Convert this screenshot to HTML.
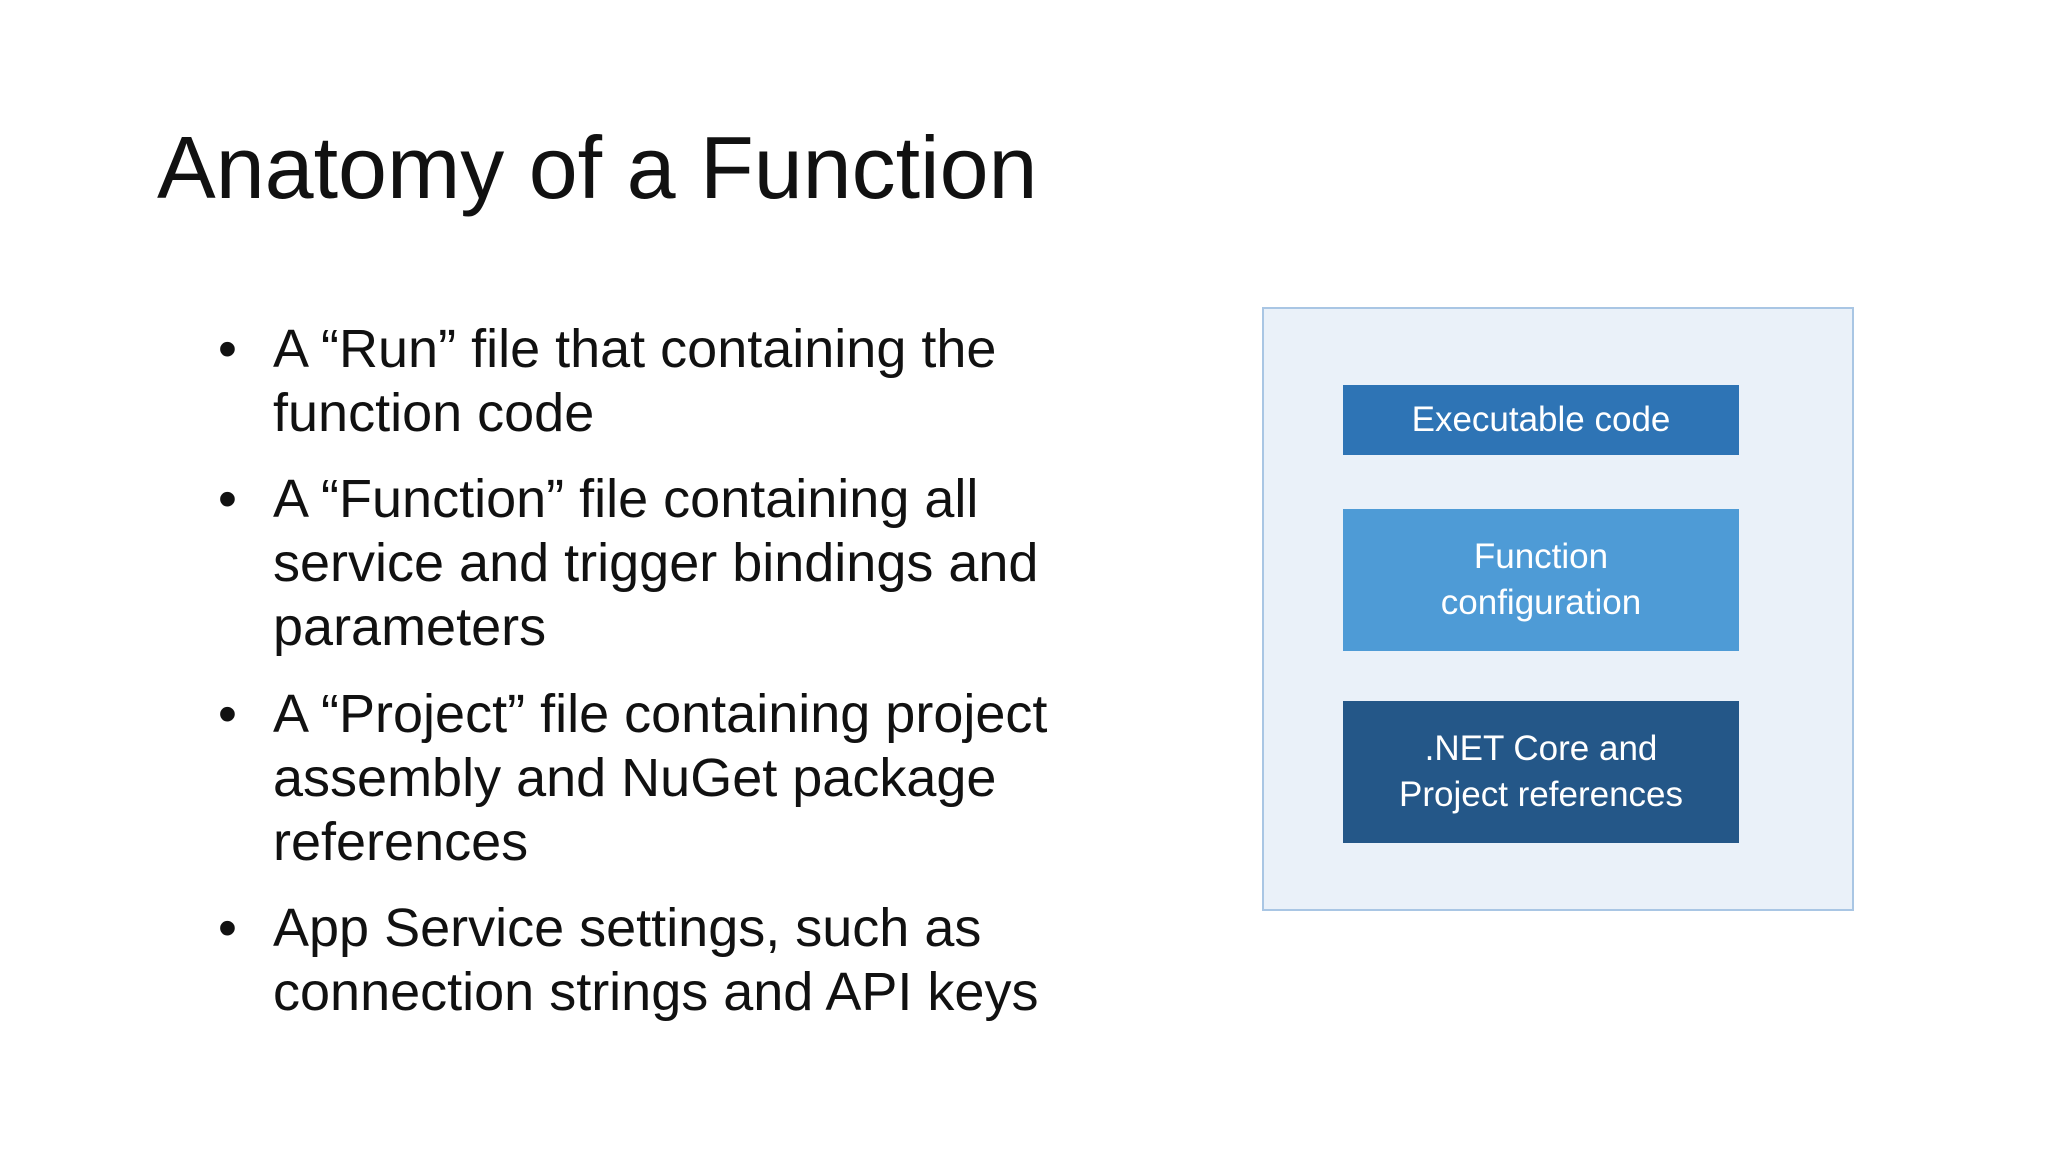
<!DOCTYPE html>
<html><head><meta charset="utf-8"><style>
body{margin:0;width:2048px;height:1152px;background:#fff;position:relative;overflow:hidden;font-family:"Liberation Sans",sans-serif;color:#111}
.t{position:absolute;white-space:nowrap}
.l{position:absolute;left:273px;font-size:54px;line-height:65px;white-space:nowrap;color:#111}
.b{position:absolute;left:218px;font-size:54px;line-height:65px}
.box{position:absolute;left:1343px;width:396px;color:#fff;font-size:35px;line-height:46px;display:flex;align-items:center;justify-content:center;text-align:center}
</style></head><body>
<div class="t" style="left:157px;top:118px;font-size:88px;line-height:100px;">Anatomy of a Function</div>

<div class="b" style="top:317px">•</div>
<div class="l" style="top:317px">A “Run” file that containing the</div>
<div class="l" style="top:381px">function code</div>

<div class="b" style="top:467px">•</div>
<div class="l" style="top:467px">A “Function” file containing all</div>
<div class="l" style="top:531px">service and trigger bindings and</div>
<div class="l" style="top:595px">parameters</div>

<div class="b" style="top:682px">•</div>
<div class="l" style="top:682px">A “Project” file containing project</div>
<div class="l" style="top:746px">assembly and NuGet package</div>
<div class="l" style="top:810px">references</div>

<div class="b" style="top:896px">•</div>
<div class="l" style="top:896px">App Service settings, such as</div>
<div class="l" style="top:960px">connection strings and API keys</div>

<div style="position:absolute;left:1262px;top:307px;width:588px;height:600px;background:#eaf1f9;border:2px solid #a9c6e4"></div>
<div class="box" style="top:385px;height:70px;background:#2e74b5">Executable code</div>
<div class="box" style="top:509px;height:142px;background:#4e9bd6">Function<br>configuration</div>
<div class="box" style="top:701px;height:142px;background:#245788">.NET Core and<br>Project references</div>
</body></html>
